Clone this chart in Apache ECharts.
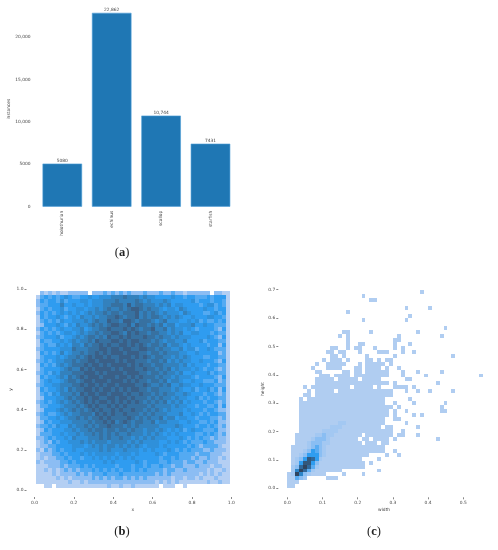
<!DOCTYPE html>
<html>
    <head>
        <meta charset='utf-8'>
        <script src="https://cdn.jsdelivr.net/npm/echarts@6/dist/echarts.min.js"></script>
        <style>
            html, body, #main {
                width: 100%;
                height: 100%;
                margin: 0;
                background: #fff;
            }
            /* the source figure is a soft, downsampled scan */
            #main canvas {
                filter: blur(0.4px);
            }
        </style>
    </head>
    <body>
        <div id='main'></div>
        <script>
        // (a) instances per class
        var categories = ['holothurian', 'echinus', 'scallop', 'starfish'];
        var instances = [5080, 22862, 10744, 7431];
        var instanceTicks = [0, 5000, 10000, 15000, 20000];

        var unitTicks = [0, 0.2, 0.4, 0.6, 0.8, 1.0];
        var widthTicks = [0, 0.1, 0.2, 0.3, 0.4, 0.5];
        var heightTicks = [0, 0.1, 0.2, 0.3, 0.4, 0.5, 0.6, 0.7];

        // (b) x/y histogram, 49 x 49 bins, top row first. digit = colour level, '.' = empty
        var xyRows = [
            '.212121122 222.222323 2323222322 2322322122 2222.2211',
            '1343434543 3445445556 6676665655 4444544344 333434441',
            '2434435344 4554555666 7666676565 5565444445 344434431',
            '2334446445 4454555667 7768677666 5656455444 434553431',
            '1343445344 5545565676 6767887676 6545546544 445443441',
            '2434345454 5456566767 7677786767 6565554654 443345341',
            '1434454345 4655656677 8767786767 7656565445 444554431',
            '1343435445 5565676687 7688767776 5675554454 534334341',
            '1244454354 6556767678 8778687767 6756645556 445443331',
            '2434345445 5645667787 7787876778 6675655454 344443241',
            '1343434554 5656676778 8768787767 7665656445 544434331',
            '2344453445 6567767687 7878777877 6766565554 444543241',
            '1433445456 5667687778 8787887776 7656655644 453444331',
            '1343354546 6576778787 7887878767 7675665454 444344241',
            '2344445557 6667778878 8788778877 6766556455 344543331',
            '1434346456 6767787878 8878887767 7676665544 544444231',
            '1344454566 7678788787 7888787876 7766565654 443344331',
            '2343455667 6778878888 7878877767 7675656554 454443241',
            '1434356567 7787887878 8887878776 7766665645 444344331',
            '1344445676 6878788887 8788877877 6767565554 543443231',
            '2343546667 7788878788 8878887767 7676656445 444534331',
            '1434456576 7878887888 7887878777 6766565554 344443241',
            '1345445677 6788788878 8878787767 7675665445 443334231',
            '2344556667 7878878788 7888877876 6767556554 454443331',
            '1434456576 7788787887 8787887767 7666565445 344534241',
            '1343546667 6878878878 8878778776 7676655654 443443231',
            '1244455676 7787887788 7887877767 6766565544 534344331',
            '2343456567 6787878878 7878787676 7675656454 443443231',
            '1334445666 7678787787 8787777767 6666565544 344334241',
            '1244456567 6767878778 7877877676 7656555454 443443221',
            '2343345656 6777687878 7787776767 6665556445 434344331',
            '1334454566 7676778787 7778767676 6756645544 344433231',
            '1243445556 6667677878 6787677667 5665554454 433434221',
            '2334354465 6676767787 7767676666 6555565444 344343231',
            '1243444556 5667677677 6776766566 5654545345 443334221',
            '1333445455 6566767676 7667666565 6545454444 334343231',
            '2234344546 5556667676 6766565656 5554445434 343323221',
            '1232434455 5656566656 6665656555 5445454343 334332221',
            '1223344445 5545656566 5656565455 5454444434 323333211',
            '2132343445 4455556565 5565554545 4445434343 332232221',
            '1222334344 4545455555 4555454444 5434443333 233322211',
            '1212233434 4344545454 5454544444 4344343332 322322121',
            '2122223343 4444444545 4444454344 4334333233 223222111',
            '1112223233 3434344444 3444344343 3433233222 322212211',
            '1121212323 2333434343 4344343433 3323322322 222121121',
            '1111212222 3232333433 3433333333 2323222222 212121211',
            '1111121212 2222323232 3323232322 2222122122 121112111',
            '1111111121 1212222222 2222222222 1212121111 111211211',
            '..11.11111 1111111121 1211211111 1.111..1.'
        ];

        // (c) width/height histogram, 50 x 50 bins, top row first
        var whRows = [
            '.......... .......... .......... ....1',
            '.......... .........1',
            '.......... .......... .11',
            '',
            '.......... .......... .......... 1.....1',
            '.......... .....1',
            '.......... .......... .......... .1',
            '.......... .........1 .......... 1',
            '',
            '.......... .......... .......... .......... 1',
            '.......... ....11.... .1........ ...1',
            '.......... ...1.1.... ........1. .........1',
            '.......... .....1.... .......11.',
            '.......... .....1..11 .......1.. .1',
            '.......... .11..1.11. ..1....1.1',
            '.......... 11.11...1. ...111...1 ..1',
            '.......... .11.1..... 1......1.. .......... ..1',
            '.........1 .111.1.... 11.1.11...',
            '.......1.. 11111...1. 11111.1...',
            '......1... 1111...11. 1111.1..1.',
            '.......11. ....11.11. 111111...1 ...1.....1',
            '........11 1.1111.111 111111...1 .....1.... .........1',
            '.......111 11.11111.1 1111...... 11',
            '.......111 1111111111 111111.1.. ........1',
            '....1.1111 111111.111 11.1...111 1.1',
            '.....1.111 11.1111111 1111111... 1..1..1... ..1',
            '....11.111 1111111111 1111111...',
            '...1.11111 1111111111 11111..... .1',
            '...1111111 1111111111 11111..1.. ..1....... 1',
            '...1111111 1111111111 1111111.1. .........1',
            '...1111111 1111111111 111111.1.. 1........1 1',
            '...1111111 1111111111 111111.1.. ..1.1',
            '...1111111 1111111111 11111..11.',
            '...1111111 1112211111 11111..... 1',
            '...1111111 1222111111 1111.11... ...1',
            '...1111112 2221111111 1111111..1',
            '..11111223 221111111. 1111111.11 ...1',
            '..11112333 21111111.1 1.1111.1.. ........1',
            '..11123332 211111111. 111.11....',
            '.111123432 1111111111 11111.....',
            '.111235432 1111111111 11111..1..',
            '.112355532 1111111111 1....1..1.',
            '.123587521 111111111. ...1',
            '.125885311 1111111111 .1',
            '.237974211 1111111111',
            '.269742111 1111...... ...1',
            '1296321111 ....1....1',
            '11432..... 111',
            '111',
            '11'
        ];

        var xyPalette = [null, '#b4cff3', '#8cbdf3', '#54aaf2', '#2f9cf0', '#2f90da', '#3381bd', '#3771a1', '#3a6088'];
        var whPalette = [null, '#b0cdf1', '#a3c8f2', '#8abef3', '#5aacf2', '#2f9df0', '#2b84c8', '#31699b', '#33587c', '#2f4560'];

        var INK = '#444';
        var FONT = 'DejaVu Sans';
        var FONT_SIZE = 4.4;

        // bin edges in data units, bottom row is the last string
        function binCells(rows, x0, dx, y0, dy) {
            var cells = [];
            rows.forEach(function (row, i) {
                var r = rows.length - 1 - i;
                row.replace(/ /g, '').split('').forEach(function (ch, c) {
                    if (ch !== '.') {
                        cells.push([x0 + c * dx, y0 + r * dy, x0 + (c + 1) * dx, y0 + (r + 1) * dy, +ch]);
                    }
                });
            });
            return cells;
        }

        function cellRenderer(palette) {
            return function (params, api) {
                var a = api.coord([api.value(0), api.value(1)]);
                var b = api.coord([api.value(2), api.value(3)]);
                // snap to whole pixels, otherwise seams show between cells
                var left = Math.round(a[0]);
                var right = Math.round(b[0]);
                var top = Math.round(b[1]);
                var bottom = Math.round(a[1]);
                return {
                    type: 'rect',
                    shape: { x: left, y: top, width: right - left, height: bottom - top },
                    style: { fill: palette[api.value(4)] }
                };
            };
        }

        function countLabel(v) {
            return v >= 10000 ? echarts.format.addCommas(v) : String(v);
        }

        function oneDecimal(v) {
            return v.toFixed(1);
        }

        function tickAxis(name, position, gridIndex, min, max, ticks, offset, nameGap) {
            return {
                type: 'value',
                gridIndex: gridIndex,
                position: position,
                offset: offset,
                min: min,
                max: max,
                name: name,
                nameLocation: 'middle',
                nameGap: nameGap,
                nameTextStyle: { color: INK, fontSize: FONT_SIZE, fontFamily: FONT },
                // onZero would pull the ticks back onto the other axis
                axisLine: { show: false, onZero: false },
                splitLine: { show: false },
                axisTick: { length: 2, customValues: ticks, lineStyle: { color: '#555', width: 0.7 } },
                axisLabel: {
                    customValues: ticks,
                    margin: position === 'bottom' ? 4 : 3,
                    color: INK,
                    fontSize: FONT_SIZE,
                    fontFamily: FONT,
                    formatter: oneDecimal
                }
            };
        }

        function caption(letter, x, y) {
            return {
                type: 'text',
                x: x,
                y: y,
                style: {
                    text: '{p|(}{b|' + letter + '}{p|)}',
                    align: 'center',
                    verticalAlign: 'middle',
                    rich: {
                        p: { fontFamily: 'Liberation Serif', fontSize: 12.5, fill: '#222' },
                        b: { fontFamily: 'Liberation Serif', fontSize: 12.5, fontWeight: 'bold', fill: '#222' }
                    }
                }
            };
        }

        var chart = echarts.init(document.getElementById('main'));

        var yAxisA = tickAxis('instances', 'left', 0, 0, 23000, instanceTicks, 4, 19);
        yAxisA.axisLabel.formatter = countLabel;

        chart.setOption({
            animation: false,
            grid: [
                { left: 37.6, top: 11.66, width: 197.6, height: 195.04 },
                { left: 34.5, top: 289, width: 196.8, height: 201 },
                { left: 287.3, top: 289.7, width: 193.6, height: 198.6 }
            ],
            xAxis: [
                {
                    type: 'category',
                    gridIndex: 0,
                    data: categories,
                    axisLine: { show: false },
                    axisTick: { show: false },
                    axisLabel: { rotate: 90, margin: 4, color: INK, fontSize: FONT_SIZE, fontFamily: FONT }
                },
                tickAxis('x', 'bottom', 1, 0, 1, unitTicks, 7, 11),
                tickAxis('width', 'bottom', 2, 0, 0.55, widthTicks, 9, 11)
            ],
            yAxis: [
                yAxisA,
                tickAxis('y', 'left', 1, 0, 1, unitTicks, 8, 12),
                tickAxis('height', 'left', 2, 0, 0.7, heightTicks, 9, 12)
            ],
            series: [
                {
                    type: 'bar',
                    xAxisIndex: 0,
                    yAxisIndex: 0,
                    data: instances,
                    barWidth: '80%',
                    itemStyle: { color: '#1f77b4', borderColor: '#4f9fd8', borderWidth: 0.6 },
                    label: {
                        show: true,
                        position: 'top',
                        distance: 0.5,
                        color: INK,
                        fontSize: FONT_SIZE,
                        fontFamily: FONT,
                        formatter: function (p) { return countLabel(p.value); }
                    }
                },
                {
                    type: 'custom',
                    xAxisIndex: 1,
                    yAxisIndex: 1,
                    silent: true,
                    clip: false,
                    renderItem: cellRenderer(xyPalette),
                    encode: { x: [0, 2], y: [1, 3] },
                    data: binCells(xyRows, 0.0076, 0.02015, 0.01, 0.02)
                },
                {
                    type: 'custom',
                    xAxisIndex: 2,
                    yAxisIndex: 2,
                    silent: true,
                    clip: false,
                    renderItem: cellRenderer(whPalette),
                    encode: { x: [0, 2], y: [1, 3] },
                    data: binCells(whRows, 0, 0.0111, 0, 0.01395)
                }
            ],
            graphic: [
                caption('a', 122, 253),
                caption('b', 122, 531.7),
                caption('c', 374, 532)
            ]
        });
        </script>
    </body>
</html>
